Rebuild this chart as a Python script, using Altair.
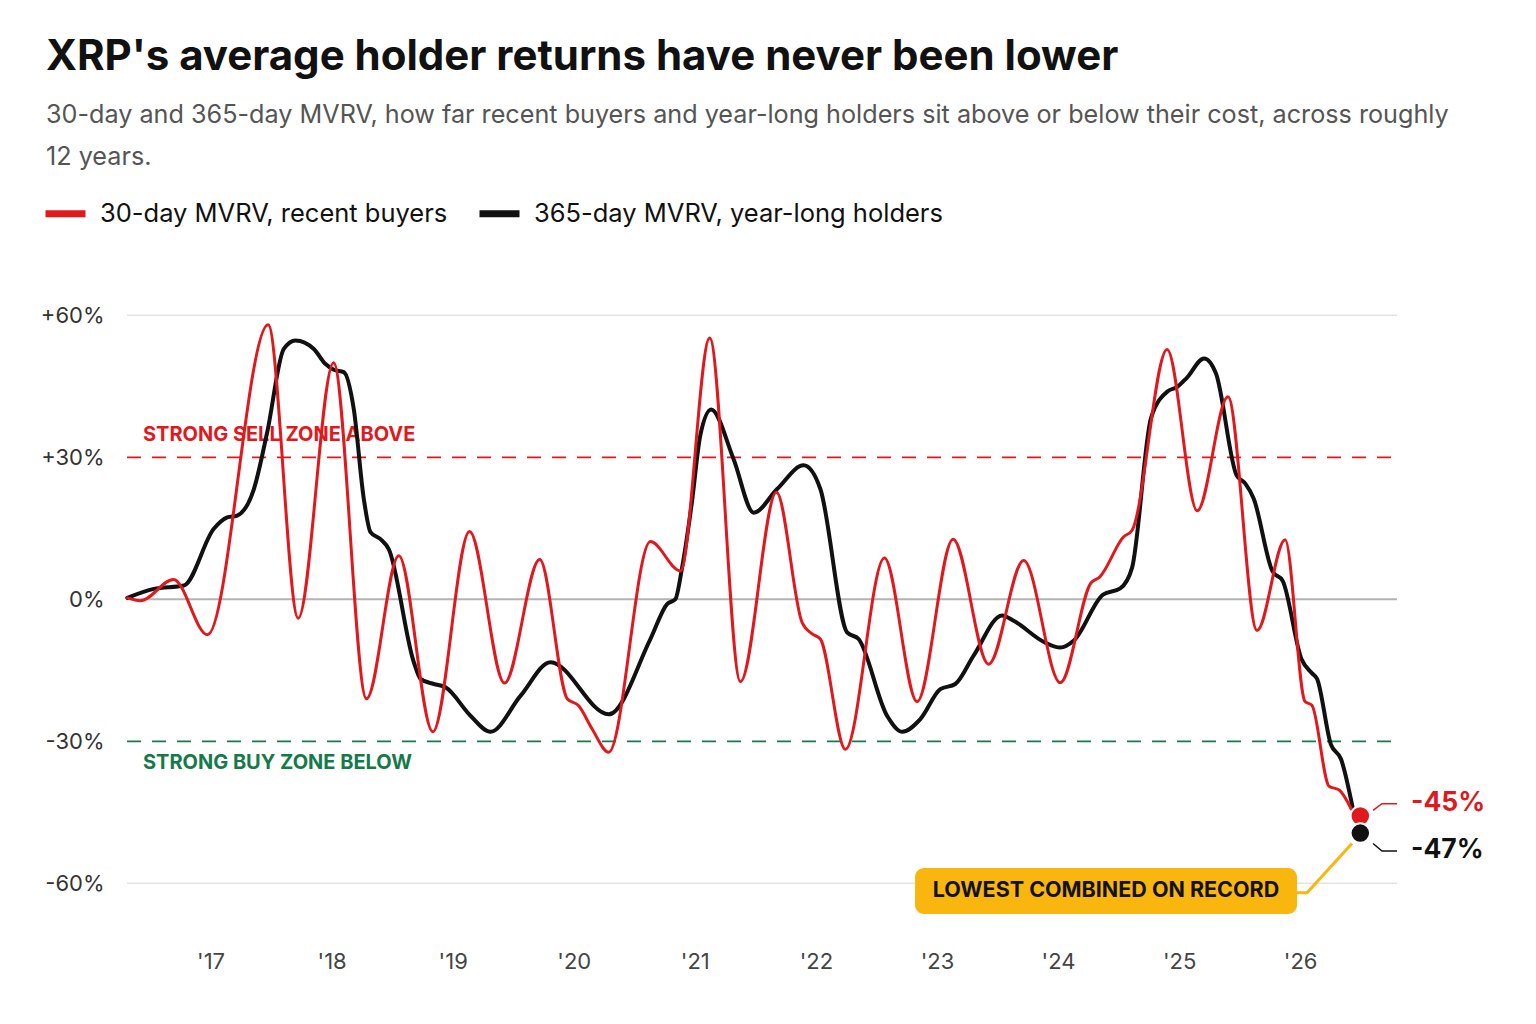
import altair as alt
import pandas as pd

# ---------------- data ----------------
SERIES = ["30-day MVRV, recent buyers", "365-day MVRV, year-long holders"]
COLORS = ["#e0191e", "#111111"]

red_year = [2016.315, 2016.422, 2016.694, 2016.975, 2017.476, 2017.724, 2018.016, 2018.288,
            2018.555, 2018.836, 2019.139, 2019.428, 2019.719, 2019.946, 2020.041, 2020.152,
            2020.289, 2020.633, 2020.881, 2021.123, 2021.377, 2021.674, 2021.886, 2021.969,
            2022.037, 2022.244, 2022.566, 2022.836, 2023.133, 2023.427, 2023.716, 2024.019,
            2024.273, 2024.344, 2024.542, 2024.612, 2024.901, 2025.150, 2025.404, 2025.644,
            2025.876, 2026.040, 2026.097, 2026.239, 2026.323, 2026.422]
red_val = [0.3, -0.3, 4.2, -7.5, 58.0, -4.0, 50.0, -21.0,
           9.2, -28.0, 14.3, -17.7, 8.4, -21.0, -22.5, -27.4,
           -32.3, 12.2, 6.0, 55.2, -17.4, 22.6, -4.9, -7.3,
           -8.4, -31.7, 8.7, -21.6, 12.7, -13.7, 8.2, -17.6,
           3.5, 4.7, 13.2, 14.6, 52.8, 18.7, 42.8, -6.6,
           12.6, -21.6, -22.4, -39.5, -40.3, -44.3]

black_year = [2016.312, 2016.532, 2016.780, 2017.027, 2017.138, 2017.220, 2017.358, 2017.468,
              2017.605, 2017.702, 2017.853, 2017.950, 2018.018, 2018.101, 2018.183, 2018.266,
              2018.321, 2018.404, 2018.472, 2018.679, 2018.734, 2018.844, 2018.941, 2019.147,
              2019.312, 2019.560, 2019.808, 2020.289, 2020.633, 2020.771, 2020.839, 2020.893,
              2020.976, 2021.045, 2021.135, 2021.319, 2021.487, 2021.680, 2021.899, 2022.037,
              2022.258, 2022.353, 2022.588, 2022.712, 2022.863, 2023.028, 2023.152, 2023.303,
              2023.538, 2023.637, 2023.891, 2024.019, 2024.131, 2024.372, 2024.514, 2024.612,
              2024.768, 2024.909, 2024.980, 2025.064, 2025.206, 2025.305, 2025.475, 2025.546,
              2025.616, 2025.772, 2025.856, 2026.012, 2026.097, 2026.140, 2026.253, 2026.338,
              2026.436]
black_val = [0.3, 2.2, 2.9, 14.9, 17.3, 17.7, 23.3, 35.3,
             52.9, 54.7, 52.9, 49.7, 48.5, 48.0, 40.2, 21.2,
             14.2, 12.7, 10.6, -13.3, -16.8, -17.9, -18.6, -24.6,
             -28.0, -20.4, -13.3, -24.3, -8.4, -1.0, 0.0, 6.4,
             20.5, 34.6, 40.1, 29.7, 18.3, 23.3, 28.3, 23.3,
             -7.0, -8.4, -24.6, -28.0, -25.3, -19.0, -17.9, -11.9,
             -3.4, -4.6, -9.1, -10.2, -8.7, 1.0, 2.3, 6.7,
             38.3, 44.0, 44.8, 46.8, 50.9, 47.7, 26.2, 24.5,
             21.3, 5.9, 3.9, -12.7, -15.6, -16.8, -30.6, -33.8,
             -44.3]

# latest readings (end dots) and their labels
last_year = [2026.497, 2026.497]
last_val = [-45.8, -49.4]
last_label = ["-45%", "-47%"]
label_val = [-43.1, -53.0]

year_ticks = list(range(2017, 2027))
y_ticks = [-60, -30, 0, 30, 60]
grid_vals = [-60, 60]
zone_text = ["STRONG SELL ZONE ABOVE", "STRONG BUY ZONE BELOW"]
zone_val = [30, -30]
callout_text = ["LOWEST COMBINED ON RECORD"]

TITLE = "XRP's average holder returns have never been lower"
SUBTITLE = ["30-day and 365-day MVRV, how far recent buyers and year-long holders sit above or below their cost, across roughly",
            "12 years."]

# ---------------- frames ----------------
df_red = pd.DataFrame({"year": red_year, "value": red_val, "series": SERIES[0]})
df_black = pd.DataFrame({"year": black_year, "value": black_val, "series": SERIES[1]})
df_dots = pd.DataFrame({"year": last_year, "value": last_val, "series": SERIES})
df_labels = pd.DataFrame({"year": [2026.916, 2026.916], "value": label_val,
                          "label": last_label, "series": SERIES})
df_grid = pd.DataFrame({"value": grid_vals})
df_zero = pd.DataFrame({"value": [0]})

FONT = "Inter"
xscale = alt.Scale(domain=[2016.31, 2026.80], nice=False, zero=False)
yscale = alt.Scale(domain=[-70, 70], nice=False, zero=False)
cscale = alt.Scale(domain=SERIES, range=COLORS)

X = alt.X("year:Q", scale=xscale, title=None,
          axis=alt.Axis(values=year_ticks, labelExpr='"\'" + substring(toString(datum.value), 2, 4)',
                        grid=False, domain=False, ticks=False, labelFontSize=22, labelColor="#444444",
                        labelFont=FONT, labelPadding=21))
Y = alt.Y("value:Q", scale=yscale, title=None,
          axis=alt.Axis(values=y_ticks,
                        labelExpr="datum.value > 0 ? '+' + datum.value + '%' : datum.value + '%'",
                        grid=False, domain=False, ticks=False, labelFontSize=22, labelColor="#333333",
                        labelFont=FONT, labelPadding=23))

base_x = alt.X("year:Q", scale=xscale)
base_y = alt.Y("value:Q", scale=yscale)

grid = alt.Chart(df_grid).mark_rule(color="#e3e3e3", strokeWidth=1.5).encode(y=Y)
zero = alt.Chart(df_zero).mark_rule(color="#b3b3b3", strokeWidth=2).encode(y=base_y)

df_sell = pd.DataFrame({"value": [zone_val[0]], "text": [zone_text[0]], "year": [2016.442]})
df_buy = pd.DataFrame({"value": [zone_val[1]], "text": [zone_text[1]], "year": [2016.442]})
sell_line = alt.Chart(df_sell).mark_rule(color="#e0191e", strokeWidth=1.8, strokeDash=[14, 11],
                                         strokeDashOffset=19).encode(y=base_y)
buy_line = alt.Chart(df_buy).mark_rule(color="#157a4a", strokeWidth=1.8, strokeDash=[14, 11],
                                       strokeDashOffset=19).encode(y=base_y)
sell_txt = alt.Chart(df_sell).mark_text(align="left", baseline="middle", dy=-22, font=FONT,
                                        fontWeight="bold", fontSize=20, color="#e0191e").encode(
    x=base_x, y=base_y, text="text:N")
buy_txt = alt.Chart(df_buy).mark_text(align="left", baseline="middle", dy=22, font=FONT,
                                      fontWeight="bold", fontSize=20, color="#157a4a").encode(
    x=base_x, y=base_y, text="text:N")

legend = alt.Legend(orient="none", legendX=-85, legendY=-78, direction="horizontal", title=None,
                    symbolType="stroke", symbolSize=1600, symbolStrokeWidth=7,
                    labelFontSize=25.5, labelFont=FONT, labelColor="#111111", labelOffset=11,
                    columnPadding=17, labelLimit=600)

black_line = alt.Chart(df_black).mark_line(interpolate="monotone", strokeWidth=4, strokeCap="round",
                                           strokeJoin="round").encode(
    x=X, y=Y, color=alt.Color("series:N", scale=cscale, legend=legend))
red_line = alt.Chart(df_red).mark_line(interpolate="monotone", strokeWidth=3, strokeCap="round",
                                       strokeJoin="round").encode(
    x=base_x, y=base_y, color=alt.Color("series:N", scale=cscale, legend=legend))

# callout
df_box = pd.DataFrame({"x": [2022.819], "x2": [2025.974], "y": [-56.8], "y2": [-66.5]})
box = alt.Chart(df_box).mark_rect(color="#f8b60f", cornerRadius=9).encode(
    x=alt.X("x:Q", scale=xscale), x2="x2:Q", y=alt.Y("y:Q", scale=yscale), y2="y2:Q")
df_ctext = pd.DataFrame({"year": [2024.396], "value": [-61.7], "text": callout_text})
ctext = alt.Chart(df_ctext).mark_text(font=FONT, fontWeight="bold", fontSize=21.5, color="#111111",
                                      baseline="middle", align="center").encode(
    x=base_x, y=base_y, text="text:N")
df_conn = pd.DataFrame({"year": [2025.974, 2026.057, 2026.428], "value": [-62.0, -62.0, -51.6],
                        "o": [0, 1, 2]})
conn = alt.Chart(df_conn).mark_line(color="#f8b60f", strokeWidth=3).encode(
    x=base_x, y=base_y, order="o:Q")

# leader lines to end labels
df_lead = pd.DataFrame({
    "year": [2026.602, 2026.676, 2026.80, 2026.602, 2026.676, 2026.80],
    "value": [-44.6, -43.2, -43.2, -51.6, -53.2, -53.2],
    "series": [SERIES[0]] * 3 + [SERIES[1]] * 3,
    "o": [0, 1, 2, 0, 1, 2]})
lead = alt.Chart(df_lead).mark_line(strokeWidth=1.5).encode(
    x=base_x, y=base_y, detail="series:N", order="o:Q",
    color=alt.Color("series:N", scale=cscale, legend=None))

dots = alt.Chart(df_dots).mark_point(filled=True, size=380, stroke="white", strokeWidth=2,
                                     opacity=1, shape="circle").encode(
    x=base_x, y=base_y, fill=alt.Fill("series:N", scale=cscale, legend=None))
labels = alt.Chart(df_labels).mark_text(align="left", baseline="middle", font=FONT,
                                        fontWeight="bold", fontSize=26.5).encode(
    x=base_x, y=base_y, text="label:N", color=alt.Color("series:N", scale=cscale, legend=None))

chart = alt.layer(
    grid, zero, sell_line, buy_line, sell_txt, buy_txt,
    black_line, red_line, box, ctext, conn, lead, dots, labels
).properties(
    width=1270, height=662.6,
    title=alt.TitleParams(TITLE, subtitle=SUBTITLE, anchor="start", frame="group", dx=-81,
                          offset=19, font=FONT, fontSize=42, fontWeight="bold", color="#111111",
                          subtitleFont=FONT, subtitleFontSize=25.2, subtitleColor="#555555",
                          subtitleLineHeight=42, subtitlePadding=24),
    autosize=alt.AutoSizeParams(type="none"),
    padding={"left": 119, "top": 260, "right": 125, "bottom": 80},
    background="white",
).configure_view(stroke=None).resolve_scale(color="shared")

chart.save("out.html", embed_options={"renderer": "svg", "actions": False})
